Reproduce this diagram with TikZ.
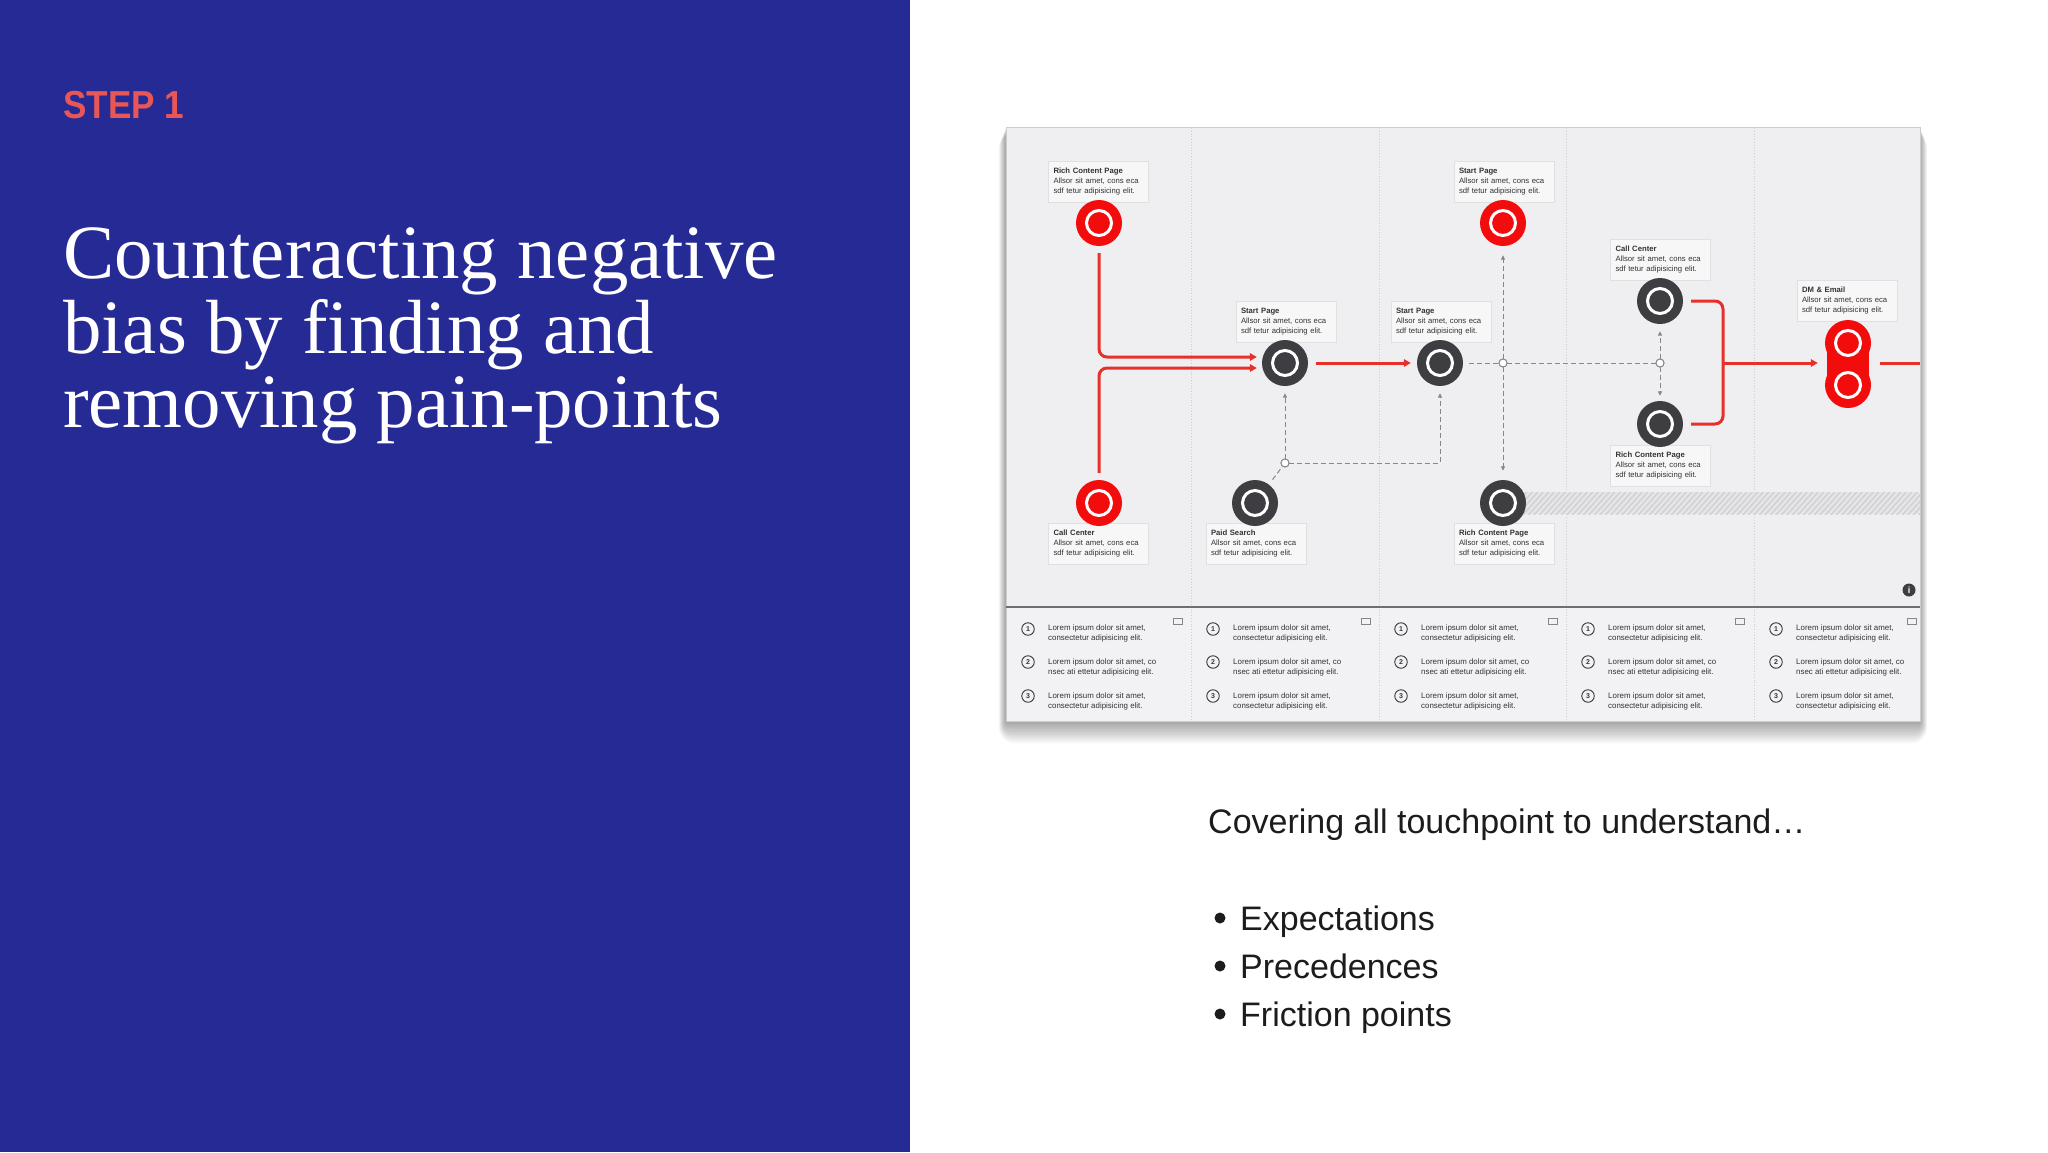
\documentclass[tikz,border=0pt]{standalone}
\usepackage{fontspec}
\setmainfont{Liberation Sans}
\newfontfamily\titlefont{Liberation Serif}
\usetikzlibrary{arrows.meta}
\definecolor{bgblue}{HTML}{262A94}
\definecolor{stepred}{HTML}{E95656}
\definecolor{panelbg}{HTML}{EFEFF1}
\definecolor{panelbg2}{HTML}{F2F2F4}
\definecolor{boxbg}{HTML}{F7F7F8}
\definecolor{boxline}{HTML}{E0E0E3}
\definecolor{cred}{HTML}{F20C0C}
\definecolor{lred}{HTML}{E8302A}
\definecolor{cdark}{HTML}{3E3E42}
\definecolor{dgray}{HTML}{85858A}
\definecolor{txtgray}{HTML}{333335}
\definecolor{divgray}{HTML}{CDCDD1}
\definecolor{sepgray}{HTML}{6E6E72}
\definecolor{hatchbg}{HTML}{E6E6E8}
\definecolor{hatchln}{HTML}{D2D2D5}
\definecolor{bodytxt}{HTML}{1C1C1E}
\tikzset{
  touch/.style={circle, minimum size=46pt, inner sep=0pt, draw=none,
    path picture={\draw[white, line width=3pt] (path picture bounding box.center) circle (12.5pt);}},
  redtp/.style={touch, fill=cred},
  darktp/.style={touch, fill=cdark},
  lbl/.style={draw=boxline, fill=boxbg, line width=0.5pt, minimum width=100pt,
    minimum height=41pt, text width=90pt, inner xsep=5pt, inner ysep=0pt,
    align=left, font=\fontsize{7.7}{10}\selectfont, text=txtgray},
  redline/.style={draw=lred, line width=3pt, rounded corners=8pt},
  redarrow/.style={redline, -{Triangle[length=7pt,width=7.5pt]}},
  dline/.style={draw=dgray, line width=1pt, dash pattern=on 5pt off 3pt},
  dashar/.style={dline, -{Triangle[length=4.5pt,width=4pt]}},
  junc/.style={circle, draw=dgray, fill=white, line width=0.9pt, minimum size=8pt, inner sep=0pt},
  numc/.style={circle, draw=txtgray, line width=0.9pt, minimum size=12.5pt, inner sep=0pt,
    font=\bfseries\fontsize{7}{7}\selectfont, text=txtgray},
  btxt/.style={anchor=west, inner sep=0pt, align=left, font=\fontsize{7.9}{10}\selectfont, text=txtgray},
  expd/.style={rectangle, draw=dgray, line width=0.8pt, minimum width=8.5pt, minimum height=6pt, inner sep=0pt},
  bullet/.style={circle, fill=bodytxt, minimum size=11pt, inner sep=0pt},
  big/.style={anchor=base west, inner sep=0pt, font=\fontsize{34}{34}\selectfont, text=bodytxt},
  ttl/.style={anchor=base west, inner sep=0pt, font=\titlefont\fontsize{76.8}{74.5}\selectfont, text=white}
}
\begin{document}
\begin{tikzpicture}[x=1pt,y=-1pt]
\useasboundingbox (0,0) rectangle (2048,1152);
\fill[white] (0,0) rectangle (2048,1152);
% left panel
\fill[bgblue] (0,0) rectangle (910,1152);
\node[anchor=base west, inner sep=0pt, text=stepred, font=\bfseries\fontsize{39}{39}\selectfont] (step) at (63,118) {\scalebox{0.9}[1]{STEP 1}};
\node[ttl] (t1) at (63,278) {Counteracting negative};
\node[ttl] (t2) at (63,353) {bias by finding and};
\node[ttl] (t3) at (63,427) {removing pain-points};
% shadow of screenshot
\foreach \k in {1,...,16}
  \fill[black, opacity=0.022, rounded corners=\k pt] (1006-\k*0.45, 127+\k*0.4) rectangle (1920+\k*0.45, 721+\k*1.4);
% panel
\fill[panelbg] (1006,127) rectangle (1920,607);
\fill[panelbg2] (1006,607) rectangle (1920,721);
\draw[divgray, line width=0.6pt] (1006,127) rectangle (1920,721);
\foreach \dx in {1191,1379,1566,1754}
  \draw[divgray, line width=0.8pt, dotted] (\dx,128) -- (\dx,720);
% hatched band
\begin{scope}
\clip (1503,492) rectangle (1920,514);
\fill[hatchbg] (1503,492) rectangle (1920,514);
\foreach \i in {0,...,80}
  \draw[hatchln, line width=1.6pt] (1480+\i*5.5,520) -- (1510+\i*5.5,486);
\end{scope}
% labels
\node[lbl] (l1) at (1098.5,181.5) {\textbf{Rich Content Page}\\Allsor sit amet, cons eca\\sdf tetur adipisicing elit.};
\node[lbl] (l2) at (1098.5,543.5) {\textbf{Call Center}\\Allsor sit amet, cons eca\\sdf tetur adipisicing elit.};
\node[lbl] (l3) at (1286,322) {\textbf{Start Page}\\Allsor sit amet, cons eca\\sdf tetur adipisicing elit.};
\node[lbl] (l4) at (1256,543.5) {\textbf{Paid Search}\\Allsor sit amet, cons eca\\sdf tetur adipisicing elit.};
\node[lbl] (l5) at (1441,322) {\textbf{Start Page}\\Allsor sit amet, cons eca\\sdf tetur adipisicing elit.};
\node[lbl] (l6) at (1504,181.5) {\textbf{Start Page}\\Allsor sit amet, cons eca\\sdf tetur adipisicing elit.};
\node[lbl] (l7) at (1504,543.5) {\textbf{Rich Content Page}\\Allsor sit amet, cons eca\\sdf tetur adipisicing elit.};
\node[lbl] (l8) at (1660.5,260) {\textbf{Call Center}\\Allsor sit amet, cons eca\\sdf tetur adipisicing elit.};
\node[lbl] (l9) at (1660.5,465.5) {\textbf{Rich Content Page}\\Allsor sit amet, cons eca\\sdf tetur adipisicing elit.};
\node[lbl] (l10) at (1847,301) {\textbf{DM \& Email}\\Allsor sit amet, cons eca\\sdf tetur adipisicing elit.};
% touchpoints
\node[redtp] (rc1) at (1099,223) {};
\node[redtp] (cc1) at (1099,503) {};
\node[darktp] (sp1) at (1285,363) {};
\node[darktp] (ps) at (1255,503) {};
\node[darktp] (sp2) at (1440,363) {};
\node[redtp] (sp3) at (1503,223) {};
\node[darktp] (rc2) at (1503,503) {};
\node[darktp] (cc2) at (1660,301) {};
\node[darktp] (rc3) at (1660,424) {};
% DM & Email double touchpoint
\fill[cred] (1848,343) circle (23);
\fill[cred] (1848,385) circle (23);
\fill[cred] (1827,343) rectangle (1869,385);
\draw[white, line width=3pt] (1848,343) circle (12.5);
\draw[white, line width=3pt] (1848,385) circle (12.5);
\node[minimum width=46pt, minimum height=88pt, inner sep=0pt] (dm) at (1848,364) {};
% junctions
\node[junc] (j1) at (1503,363) {};
\node[junc] (j2) at (1660,363) {};
\node[junc] (jp) at (1285,463) {};
\coordinate (br) at (1723,363);
\coordinate (pedge) at (1920,363);
% red connectors
\draw[redarrow, shorten <=7pt, shorten >=5pt] (rc1.south) |- ([yshift=6pt]sp1.west);
\draw[redarrow, shorten <=7pt, shorten >=5pt] (cc1.north) |- ([yshift=-5pt]sp1.west);
\draw[redarrow, shorten <=8pt, shorten >=6pt] (sp1) -- (sp2);
\draw[redline, shorten <=8pt, shorten >=8pt] (cc2) -- (cc2 -| br) -- (rc3 -| br) -- (rc3);
\draw[redarrow, shorten >=7pt] (br) -- (br -| dm.west);
\draw[redline, shorten <=9pt] (dm.east |- pedge) -- (pedge);
% dashed connectors
\draw[dline, shorten <=6pt] (sp2) -- (j1);
\draw[dline] (j1) -- (j2);
\draw[dashar, shorten >=9pt] (j1) -- (sp3);
\draw[dashar, shorten >=9pt] (j1) -- (rc2);
\draw[dashar, shorten >=7pt] (j2) -- (cc2);
\draw[dashar, shorten >=5pt] (j2) -- (rc3);
\draw[dline, shorten <=6pt] (ps) -- (jp);
\draw[dashar, shorten >=7pt] (jp) -- (sp1);
\draw[dashar, shorten >=7pt] (jp) -| (sp2);
% redraw junctions on top
\node[junc] (j1b) at (j1) {};
\node[junc] (j2b) at (j2) {};
\node[junc] (jpb) at (jp) {};
% info icon
\node[circle, fill=cdark, minimum size=13pt, inner sep=0pt, text=white, font=\bfseries\fontsize{9}{9}\selectfont] (info) at (1909,590) {i};
% separator
\draw[sepgray, line width=1.5pt] (1006,607) -- (1920,607);
% bottom notes
\foreach \cx/\rx [count=\c] in {1006/1178,1191/1366,1379/1553,1566/1740,1754/1912} {
  \node[numc] (na\c) at (\cx+22,629) {1};
  \node[numc] (nb\c) at (\cx+22,662) {2};
  \node[numc] (nc\c) at (\cx+22,696) {3};
  \node[btxt] (ta\c) at (\cx+42,633) {Lorem ipsum dolor sit amet,\\consectetur adipisicing elit.};
  \node[btxt] (tb\c) at (\cx+42,667) {Lorem ipsum dolor sit amet, co\\nsec ati ettetur adipisicing elit.};
  \node[btxt] (tc\c) at (\cx+42,701) {Lorem ipsum dolor sit amet,\\consectetur adipisicing elit.};
  \node[expd] (ex\c) at (\rx,621) {};
}
% right text
\node[big] (cov) at (1208,833) {Covering all touchpoint to understand…};
\node[bullet] (b1) at (1220,918) {};
\node[big] (e1) at (1240,930) {Expectations};
\node[bullet] (b2) at (1220,966) {};
\node[big] (e2) at (1240,978) {Precedences};
\node[bullet] (b3) at (1220,1014) {};
\node[big] (e3) at (1240,1026) {Friction points};
\end{tikzpicture}
\end{document}
